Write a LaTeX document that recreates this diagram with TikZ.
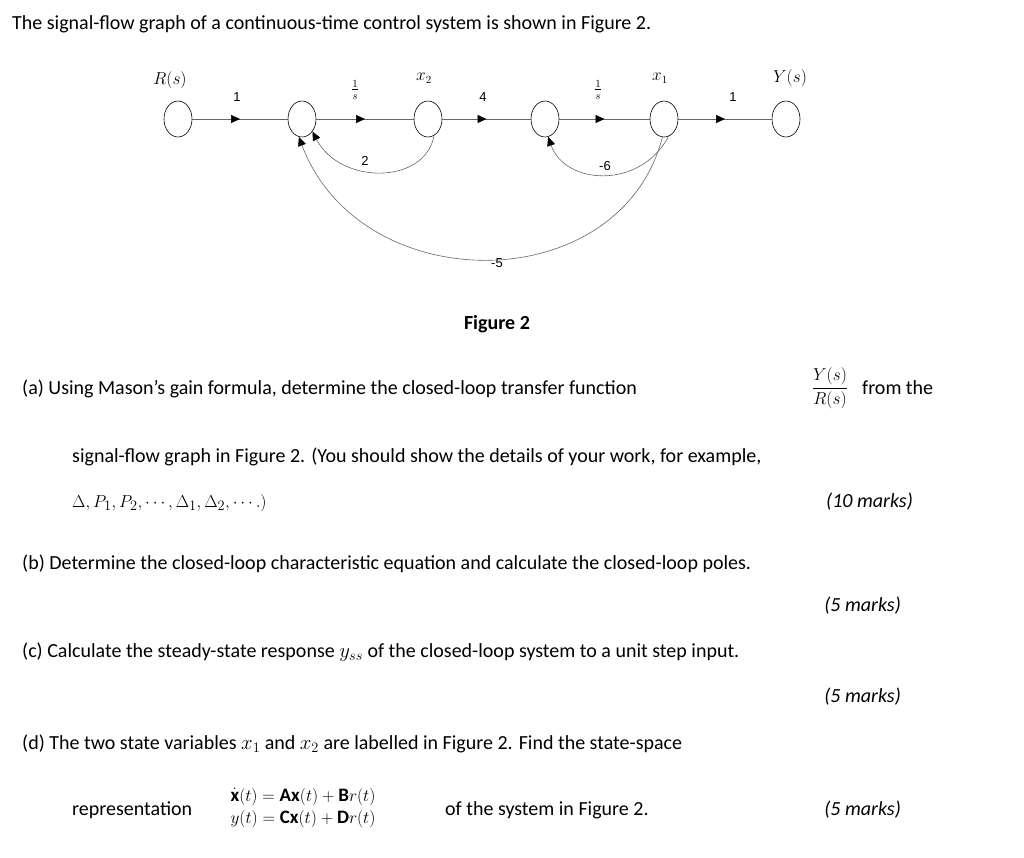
\documentclass[tikz,border=0pt]{standalone}
\usepackage{fontspec}
\setmainfont{Carlito}
\newfontfamily\ari{Liberation Sans}
\usetikzlibrary{decorations.markings,arrows.meta,shapes.geometric}
\begin{document}
\begin{tikzpicture}[x=1pt,y=-1pt,
  nd/.style={draw,ellipse,minimum width=28pt,minimum height=36pt,inner sep=0pt,line width=0.6pt},
  br/.style={draw=gray!80!black,line width=0.7pt,postaction={decorate},decoration={markings,mark=at position 0.5 with {\arrow{Triangle[length=9pt,width=8pt,black]}}}},
  fb/.style={draw=gray!80!black,line width=0.6pt,-{Triangle[length=9pt,width=8pt,black]}},
  gl/.style={font=\ari\fontsize{13}{15}\selectfont},
  ml/.style={font=\fontsize{16}{18}\selectfont},
  txt/.style={anchor=base west,font=\fontsize{20}{24}\selectfont,inner sep=0pt},
  mk/.style={anchor=base east,font=\itshape\fontsize{20}{24}\selectfont,inner sep=0pt}]
\useasboundingbox (0,0) rectangle (1024,857);
\node[nd] (R) at (178,119) {};
\node[nd] (A) at (302,119) {};
\node[nd] (X2) at (428,119) {};
\node[nd] (B) at (545,119) {};
\node[nd] (X1) at (664,119) {};
\node[nd] (Y) at (786,119) {};
\draw[br] (R) -- (A);
\draw[br] (A) -- (X2);
\draw[br] (X2) -- (B);
\draw[br] (B) -- (X1);
\draw[br] (X1) -- (Y);
\draw[fb] (X2.-70) .. controls (425,185) and (340,185) .. (A.-50);
\draw[fb] (X1.-75) .. controls (640,190) and (565,185) .. (B.-80);
\draw[fb] (X1.-95) .. controls (620,300) and (360,300) .. (A.-100);
\node[gl] (g1) at (237,97) {1};
\node[gl] (g4) at (483,97) {4};
\node[gl] (g6) at (733,97) {1};
\node[gl] (g2) at (365,161) {2};
\node[gl] (g3) at (605,166) {-6};
\node[gl] (g5) at (497,263) {-5};
\node[ml] (s1) at (355,90) {$\frac{1}{s}$};
\node[ml] (s2) at (598,90) {$\frac{1}{s}$};
\node[ml] (lx2) at (424,78) {$x_2$};
\node[ml] (lx1) at (660,78) {$x_1$};
\node[ml] (lR) at (170,80) {$R(s)$};
\node[ml] (lY) at (790,78) {$Y(s)$};
\node[txt] (t0) at (12,29) {The signal-flow graph of a continuous-time control system is shown in Figure 2.};
\node[txt,anchor=base,font=\bfseries\fontsize{20}{24}\selectfont] (f2) at (497,329) {Figure 2};
\node[txt] (ta) at (22,394) {(a) Using Mason’s gain formula, determine the closed-loop transfer function};
\node[ml,font=\fontsize{18}{20}\selectfont] (fr) at (830,388) {$\displaystyle\frac{Y(s)}{R(s)}$};
\node[txt] (ta2) at (862,394) {from the};
\node[txt] (ta3) at (72,462) {signal-flow graph in Figure 2. (You should show the details of your work, for example,};
\node[txt,font=\fontsize{19}{23}\selectfont] (ta4) at (72,507) {$\Delta,P_1,P_2,\cdots,\Delta_1,\Delta_2,\cdots.)$};
\node[mk] (m1) at (913,507) {(10 marks)};
\node[txt] (tb) at (22,569) {(b) Determine the closed-loop characteristic equation and calculate the closed-loop poles.};
\node[mk] (m2) at (901,611) {(5 marks)};
\node[txt] (tc) at (22,657) {(c) Calculate the steady-state response $y_{ss}$ of the closed-loop system to a unit step input.};
\node[mk] (m3) at (901,702) {(5 marks)};
\node[txt,text width=966pt,align=justify] (td) at (22,749) {(d) The two state variables $x_1$ and $x_2$ are labelled in Figure 2. Find the state-space};
\node[txt] (te) at (72,815) {representation};
\node[ml,font=\fontsize{19}{22}\selectfont,anchor=west] (eq) at (222,808) {$\begin{array}{l}\dot{\mathbf{x}}(t)=\mathbf{A}\mathbf{x}(t)+\mathbf{B}r(t)\\ y(t)=\mathbf{C}\mathbf{x}(t)+\mathbf{D}r(t)\end{array}$};
\node[txt] (te2) at (445,815) {of the system in Figure 2.};
\node[mk] (m4) at (901,815) {(5 marks)};
\end{tikzpicture}
\end{document}
